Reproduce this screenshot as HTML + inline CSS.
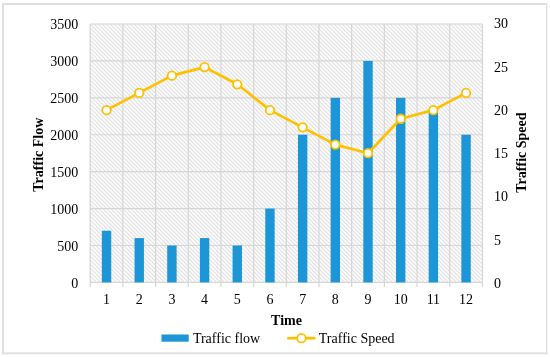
<!DOCTYPE html>
<html><head><meta charset="utf-8"><title>Traffic flow and speed</title>
<style>
html,body{margin:0;padding:0;background:#fff;}
body{width:550px;height:357px;overflow:hidden;}
svg{display:block;}
text{font-family:"Liberation Serif","Times New Roman",serif;font-size:14px;fill:#000;font-variant-ligatures:none;}
.b{font-weight:bold;}
</style></head><body>
<svg width="550" height="357" viewBox="0 0 550 357">
<defs>
<pattern id="hatch" width="4" height="4" patternUnits="userSpaceOnUse" patternTransform="translate(90.2 24.0)">
<rect width="4" height="4" fill="#fff"/>
<path d="M-1,-1 L5,5 M-1,3 L1,5 M3,-1 L5,1" stroke="#dddddd" stroke-width="1.05" fill="none"/>
</pattern>
</defs>
<rect x="0" y="0" width="550" height="357" fill="#fff"/>
<g fill="#e0e0e0"><rect x="2" y="3" width="2" height="351.3"/><rect x="2" y="3" width="545.4" height="2"/><rect x="546" y="3" width="1.4" height="351.3"/><rect x="2" y="352.3" width="545.4" height="2"/></g>
<rect x="90.2" y="24.0" width="392.20" height="258.40" fill="url(#hatch)"/>

<line x1="90.2" x2="482.4" y1="282.40" y2="282.40" stroke="#d6d6d6" stroke-width="1.2"/>
<line x1="90.2" x2="482.4" y1="245.49" y2="245.49" stroke="#d6d6d6" stroke-width="1.2"/>
<line x1="90.2" x2="482.4" y1="208.57" y2="208.57" stroke="#d6d6d6" stroke-width="1.2"/>
<line x1="90.2" x2="482.4" y1="171.66" y2="171.66" stroke="#d6d6d6" stroke-width="1.2"/>
<line x1="90.2" x2="482.4" y1="134.74" y2="134.74" stroke="#d6d6d6" stroke-width="1.2"/>
<line x1="90.2" x2="482.4" y1="97.83" y2="97.83" stroke="#d6d6d6" stroke-width="1.2"/>
<line x1="90.2" x2="482.4" y1="60.91" y2="60.91" stroke="#d6d6d6" stroke-width="1.2"/>
<line x1="90.2" x2="482.4" y1="24.00" y2="24.00" stroke="#d6d6d6" stroke-width="1.2"/>
<line x1="90.20" x2="90.20" y1="24.0" y2="287.00" stroke="#d6d6d6" stroke-width="1.2"/>
<line x1="122.88" x2="122.88" y1="24.0" y2="287.00" stroke="#d6d6d6" stroke-width="1.2"/>
<line x1="155.57" x2="155.57" y1="24.0" y2="287.00" stroke="#d6d6d6" stroke-width="1.2"/>
<line x1="188.25" x2="188.25" y1="24.0" y2="287.00" stroke="#d6d6d6" stroke-width="1.2"/>
<line x1="220.93" x2="220.93" y1="24.0" y2="287.00" stroke="#d6d6d6" stroke-width="1.2"/>
<line x1="253.62" x2="253.62" y1="24.0" y2="287.00" stroke="#d6d6d6" stroke-width="1.2"/>
<line x1="286.30" x2="286.30" y1="24.0" y2="287.00" stroke="#d6d6d6" stroke-width="1.2"/>
<line x1="318.98" x2="318.98" y1="24.0" y2="287.00" stroke="#d6d6d6" stroke-width="1.2"/>
<line x1="351.67" x2="351.67" y1="24.0" y2="287.00" stroke="#d6d6d6" stroke-width="1.2"/>
<line x1="384.35" x2="384.35" y1="24.0" y2="287.00" stroke="#d6d6d6" stroke-width="1.2"/>
<line x1="417.03" x2="417.03" y1="24.0" y2="287.00" stroke="#d6d6d6" stroke-width="1.2"/>
<line x1="449.72" x2="449.72" y1="24.0" y2="287.00" stroke="#d6d6d6" stroke-width="1.2"/>
<line x1="482.40" x2="482.40" y1="24.0" y2="287.00" stroke="#d6d6d6" stroke-width="1.2"/>
<rect x="101.84" y="230.72" width="9.4" height="51.68" fill="#1c96d6"/>
<rect x="134.53" y="238.10" width="9.4" height="44.30" fill="#1c96d6"/>
<rect x="167.21" y="245.49" width="9.4" height="36.91" fill="#1c96d6"/>
<rect x="199.89" y="238.10" width="9.4" height="44.30" fill="#1c96d6"/>
<rect x="232.57" y="245.49" width="9.4" height="36.91" fill="#1c96d6"/>
<rect x="265.26" y="208.57" width="9.4" height="73.83" fill="#1c96d6"/>
<rect x="297.94" y="134.74" width="9.4" height="147.66" fill="#1c96d6"/>
<rect x="330.62" y="97.83" width="9.4" height="184.57" fill="#1c96d6"/>
<rect x="363.31" y="60.91" width="9.4" height="221.49" fill="#1c96d6"/>
<rect x="395.99" y="97.83" width="9.4" height="184.57" fill="#1c96d6"/>
<rect x="428.67" y="112.59" width="9.4" height="169.81" fill="#1c96d6"/>
<rect x="461.36" y="134.74" width="9.4" height="147.66" fill="#1c96d6"/>
<polyline fill="none" stroke="#ffc000" stroke-width="2.7" stroke-linejoin="round" points="106.54,110.13 139.22,92.91 171.91,75.68 204.59,67.07 237.27,84.29 269.96,110.13 302.64,127.36 335.32,144.59 368.01,153.20 400.69,118.75 433.37,110.13 466.06,92.91"/>
<circle cx="106.54" cy="110.13" r="4.25" fill="#fff" stroke="#ffc000" stroke-width="1.8"/>
<circle cx="139.22" cy="92.91" r="4.25" fill="#fff" stroke="#ffc000" stroke-width="1.8"/>
<circle cx="171.91" cy="75.68" r="4.25" fill="#fff" stroke="#ffc000" stroke-width="1.8"/>
<circle cx="204.59" cy="67.07" r="4.25" fill="#fff" stroke="#ffc000" stroke-width="1.8"/>
<circle cx="237.27" cy="84.29" r="4.25" fill="#fff" stroke="#ffc000" stroke-width="1.8"/>
<circle cx="269.96" cy="110.13" r="4.25" fill="#fff" stroke="#ffc000" stroke-width="1.8"/>
<circle cx="302.64" cy="127.36" r="4.25" fill="#fff" stroke="#ffc000" stroke-width="1.8"/>
<circle cx="335.32" cy="144.59" r="4.25" fill="#fff" stroke="#ffc000" stroke-width="1.8"/>
<circle cx="368.01" cy="153.20" r="4.25" fill="#fff" stroke="#ffc000" stroke-width="1.8"/>
<circle cx="400.69" cy="118.75" r="4.25" fill="#fff" stroke="#ffc000" stroke-width="1.8"/>
<circle cx="433.37" cy="110.13" r="4.25" fill="#fff" stroke="#ffc000" stroke-width="1.8"/>
<circle cx="466.06" cy="92.91" r="4.25" fill="#fff" stroke="#ffc000" stroke-width="1.8"/>
<text x="78.3" y="287.80" text-anchor="end">0</text>
<text x="78.3" y="250.76" text-anchor="end">500</text>
<text x="78.3" y="213.71" text-anchor="end">1000</text>
<text x="78.3" y="176.67" text-anchor="end">1500</text>
<text x="78.3" y="139.63" text-anchor="end">2000</text>
<text x="78.3" y="102.59" text-anchor="end">2500</text>
<text x="78.3" y="65.54" text-anchor="end">3000</text>
<text x="78.3" y="28.50" text-anchor="end">3500</text>
<text x="494" y="287.75">0</text>
<text x="494" y="244.53">5</text>
<text x="494" y="201.32">10</text>
<text x="494" y="158.10">15</text>
<text x="494" y="114.88">20</text>
<text x="494" y="71.67">25</text>
<text x="494" y="28.45">30</text>
<text x="106.54" y="303.5" text-anchor="middle">1</text>
<text x="139.22" y="303.5" text-anchor="middle">2</text>
<text x="171.91" y="303.5" text-anchor="middle">3</text>
<text x="204.59" y="303.5" text-anchor="middle">4</text>
<text x="237.27" y="303.5" text-anchor="middle">5</text>
<text x="269.96" y="303.5" text-anchor="middle">6</text>
<text x="302.64" y="303.5" text-anchor="middle">7</text>
<text x="335.32" y="303.5" text-anchor="middle">8</text>
<text x="368.01" y="303.5" text-anchor="middle">9</text>
<text x="400.69" y="303.5" text-anchor="middle">10</text>
<text x="433.37" y="303.5" text-anchor="middle">11</text>
<text x="466.06" y="303.5" text-anchor="middle">12</text>
<text class="b" transform="translate(43 154.7) rotate(-90)" text-anchor="middle">Traffic Flow</text>
<text class="b" transform="translate(525.8 152.6) rotate(-90)" text-anchor="middle">Traffic Speed</text>
<text class="b" x="286.5" y="324.7" text-anchor="middle">Time</text>
<rect x="161.5" y="334.5" width="27.2" height="7.2" fill="#1c96d6"/>
<text x="192.9" y="342.5">Traffic flow</text>
<line x1="287.2" x2="315.5" y1="338.2" y2="338.2" stroke="#ffc000" stroke-width="2.7"/>
<circle cx="301.5" cy="338.2" r="4.25" fill="#fff" stroke="#ffc000" stroke-width="1.8"/>
<text x="318.8" y="342.5">Traffic Speed</text>
</svg></body></html>
